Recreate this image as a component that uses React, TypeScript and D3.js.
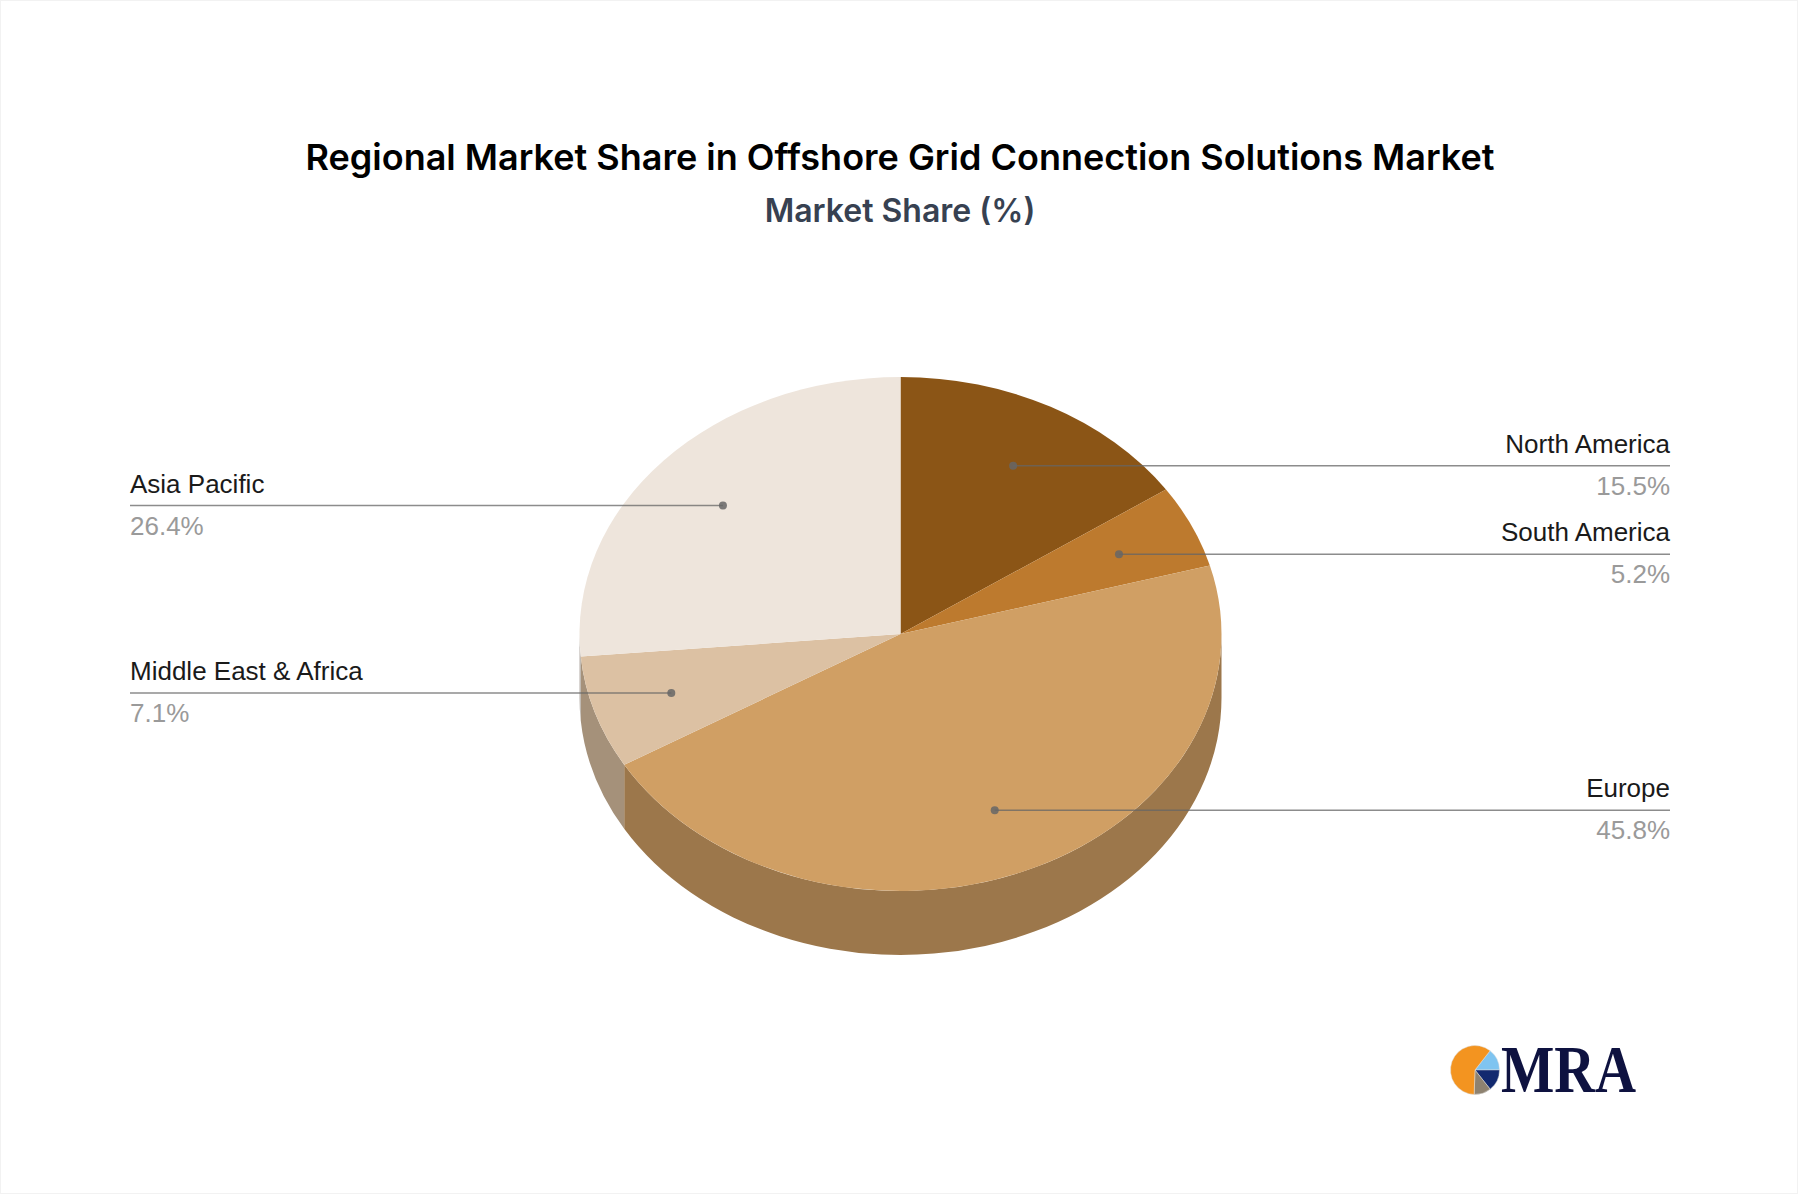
import React from "react";
import * as d3 from "d3";

const regions = ["North America", "South America", "Europe", "Middle East & Africa", "Asia Pacific"];
const shares = [15.5, 5.2, 45.8, 7.1, 26.4];
const topColors = ["#8B5516", "#BD7A2E", "#D09F64", "#DCC1A3", "#EEE5DC"];
const labelSides = ["right", "right", "right", "left", "left"];
const logoShares = [14.4, 14.4, 11.2, 60];
const logoColors = ["#7FC4F0", "#12296F", "#8E8270", "#F39420"];

const W = 1800, H = 1196;
const cx = 900.5, cy = 634, rx = 321, ry = 257, depth = 64;
const leaderFractionX = 0.75, leaderFractionY = 0.743, leaderShiftY = 0.5;
const leftX = 130, rightX = 1670;

const px = (t: number, f = 1) => cx + rx * f * Math.sin(t);
const py = (t: number, f = 1) => cy - ry * f * Math.cos(t);

const pieGen = d3.pie<number>().sort(null).value((d) => d);
const arcs = pieGen(shares);

function topPath(a0: number, a1: number) {
  const large = a1 - a0 > Math.PI ? 1 : 0;
  return `M${cx},${cy}L${px(a0)},${py(a0)}A${rx},${ry} 0 ${large} 1 ${px(a1)},${py(a1)}Z`;
}

function sidePath(a0: number, a1: number) {
  const s = Math.max(a0, Math.PI / 2);
  const e = Math.min(a1, (3 * Math.PI) / 2);
  if (e <= s) return null;
  const large = e - s > Math.PI ? 1 : 0;
  return (
    `M${px(s)},${py(s)}A${rx},${ry} 0 ${large} 1 ${px(e)},${py(e)}` +
    `L${px(e)},${py(e) + depth}A${rx},${ry} 0 ${large} 0 ${px(s)},${py(s) + depth}Z`
  );
}

const shade = (c: string) => {
  const r = d3.rgb(c);
  return d3.rgb(r.r * 0.75, r.g * 0.75, r.b * 0.75).formatHex();
};

const logoArc = d3.arc<d3.PieArcDatum<number>>().innerRadius(0).outerRadius(24.5);
const logoPie = d3
  .pie<number>()
  .sort(null)
  .value((d) => d)
  .startAngle((38 * Math.PI) / 180)
  .endAngle((398 * Math.PI) / 180);

export default function App() {
  return (
    <svg
      width={W}
      height={H}
      viewBox={`0 0 ${W} ${H}`}
      style={{ position: "absolute", left: 0, top: 0, background: "#fff" }}
    >
      <rect x={0.5} y={0.5} width={W - 3} height={H - 3} fill="none" stroke="#f2f2f2" />
      <text x={900} y={170} textAnchor="middle" fontFamily="Inter" fontWeight={600} fontSize={36} fill="#000">
        Regional Market Share in Offshore Grid Connection Solutions Market
      </text>
      <text x={900} y={222} textAnchor="middle" fontFamily="Inter" fontWeight={600} fontSize={32} fill="#374151">
        Market Share (%)
      </text>

      {arcs.map((a, i) => {
        const d = sidePath(a.startAngle, a.endAngle);
        return d ? <path key={i} d={d} fill={shade(topColors[i])} /> : null;
      })}
      {arcs.map((a, i) => (
        <path key={i} d={topPath(a.startAngle, a.endAngle)} fill={topColors[i]} />
      ))}

      {arcs.map((a, i) => {
        const mid = (a.startAngle + a.endAngle) / 2;
        const x = px(mid, leaderFractionX);
        const y = py(mid, leaderFractionY) + leaderShiftY;
        const right = labelSides[i] === "right";
        const endX = right ? rightX : leftX;
        const anchor = right ? "end" : "start";
        return (
          <g key={i}>
            <line x1={x} y1={y} x2={endX} y2={y} stroke="#666" strokeOpacity={0.75} strokeWidth={1.6} />
            <circle cx={x} cy={y} r={4} fill="#666" fillOpacity={0.85} />
            <text x={endX} y={y - 13} textAnchor={anchor} fontFamily="Liberation Sans" fontSize={26} fill="#1a1a1a">
              {regions[i]}
            </text>
            <text x={endX} y={y + 29} textAnchor={anchor} fontFamily="Liberation Sans" fontSize={26} fill="#9a9a9a">
              {shares[i].toFixed(1)}%
            </text>
          </g>
        );
      })}

      <g transform="translate(1475,1070)">
        {logoPie(logoShares).map((a, i) => (
          <path key={i} d={logoArc(a) || ""} fill={logoColors[i]} stroke="#ddd" strokeWidth={0.5} />
        ))}
      </g>
      <text
        x={1501}
        y={1092}
        fontFamily="Liberation Serif"
        fontWeight={700}
        fontSize={67}
        fill="#0E1240"
        textLength={135}
        lengthAdjust="spacingAndGlyphs"
      >
        MRA
      </text>
    </svg>
  );
}
